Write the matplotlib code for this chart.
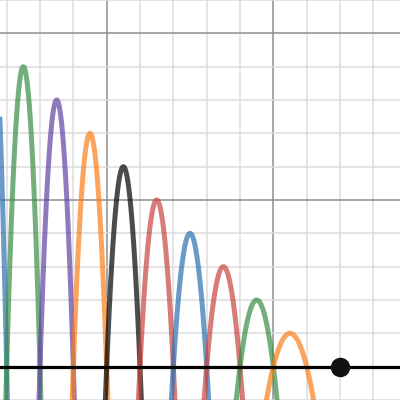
import numpy as np
import matplotlib.pyplot as plt
from matplotlib.ticker import MultipleLocator

# bouncing arcs: peak position, peak height, colour
peak_x = [1.5, 2.5, 3.5, 4.5, 5.5, 6.5, 7.5, 8.5, 9.5, 10.5]
peak_h = [11.5, 9, 8, 7, 6, 5, 4, 3, 2, 1]
arc_colors = ["#2d70b3", "#388c46", "#6042a6", "#fa7e19", "#000000",
              "#c74440", "#2d70b3", "#c74440", "#388c46", "#fa7e19"]

dot_x = [12]
dot_y = [0]

fig = plt.figure(figsize=(4, 4), dpi=100)
ax = fig.add_axes([0, 0, 1, 1])

ax.set_xlim(1.8, 13.8)
ax.set_ylim(-1, 11)

# desmos style grid
ax.xaxis.set_major_locator(MultipleLocator(5))
ax.yaxis.set_major_locator(MultipleLocator(5))
ax.xaxis.set_minor_locator(MultipleLocator(1))
ax.yaxis.set_minor_locator(MultipleLocator(1))
ax.grid(which="minor", color="#dcdcdc", lw=1.1, zorder=0)
ax.grid(which="major", color="#8e8e8e", lw=1.1, zorder=0)
ax.tick_params(which="both", length=0, labelbottom=False, labelleft=False)
for s in ax.spines.values():
    s.set_visible(False)

xs = np.linspace(1.0, 14.0, 3000)
for c, h, col in zip(peak_x, peak_h, arc_colors):
    ys = h * (1 - 4 * (xs - c) ** 2)
    ax.plot(xs, ys, color=col, lw=3.6, alpha=0.7, zorder=2)

# x axis sits on top of the curves
ax.axhline(0, color="black", lw=2.3, zorder=3)

ax.plot(dot_x, dot_y, "o", color="#111111", ms=13, zorder=4)

plt.savefig("out.png", dpi=100)
